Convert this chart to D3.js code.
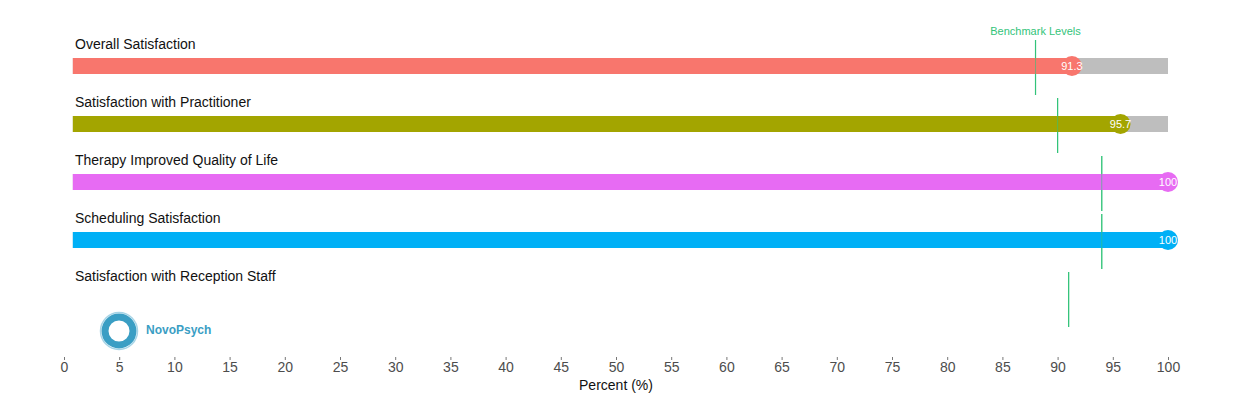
<!DOCTYPE html>
<html>
<head>
<meta charset="utf-8">
<script src="https://cdn.jsdelivr.net/npm/d3@7"></script>
<style>
  body { margin: 0; background: #fff; }
  text { font-family: "Liberation Sans", Arial, sans-serif; }
</style>
</head>
<body>
<script>
const categories = ["Overall Satisfaction", "Satisfaction with Practitioner", "Therapy Improved Quality of Life", "Scheduling Satisfaction", "Satisfaction with Reception Staff"];
const scores = [91.3, 95.7, 100, 100, null];
const benchmarks = [88, 90, 94, 94, 91];
const colours = ["#F8766D", "#A3A500", "#E76BF3", "#00B0F6", "#00BF7D"];
const ticks = d3.range(0, 101, 5);
const barStart = 0.8;

const w = 1239, h = 400;
const svg = d3.select("body").append("svg").attr("width", w).attr("height", h);

const x = d3.scaleLinear().domain([0, 100]).range([64, 1168]);
const y = d3.scaleBand().domain(categories).range([37, 327]);
const rowC = d => y(d) + y.bandwidth() / 2;

// benchmark lines
svg.selectAll(".bench").data(categories).enter().append("line")
  .attr("x1", (d, i) => x(benchmarks[i])).attr("x2", (d, i) => x(benchmarks[i]))
  .attr("y1", d => y(d) + 3).attr("y2", d => y(d) + y.bandwidth())
  .attr("stroke", "#33c47a").attr("stroke-width", 1.2);

svg.append("text").attr("x", x(benchmarks[0])).attr("y", 35)
  .attr("text-anchor", "middle").attr("font-size", 11).attr("fill", "#33c47a")
  .text("Benchmark Levels");

const rows = categories.map((c, i) => ({ c, v: scores[i], col: colours[i] }));

svg.selectAll(".lab").data(rows).enter().append("text")
  .attr("x", 75).attr("y", d => rowC(d.c) - 17)
  .attr("font-size", 14).attr("fill", "#111").text(d => d.c);

const scored = rows.filter(d => d.v != null);

svg.selectAll(".bg").data(scored).enter().append("rect")
  .attr("x", x(barStart)).attr("width", x(100) - x(barStart))
  .attr("y", d => rowC(d.c) - 8).attr("height", 16).attr("fill", "#BEBEBE");

svg.selectAll(".bar").data(scored).enter().append("rect")
  .attr("x", x(barStart)).attr("width", d => x(d.v) - x(barStart))
  .attr("y", d => rowC(d.c) - 8).attr("height", 16).attr("fill", d => d.col);

// benchmark line visible over bars
svg.selectAll(".bench2").data(categories).enter().append("line")
  .attr("x1", (d, i) => x(benchmarks[i])).attr("x2", (d, i) => x(benchmarks[i]))
  .attr("y1", d => y(d) + 3).attr("y2", d => y(d) + y.bandwidth())
  .attr("stroke", "#33c47a").attr("stroke-width", 1).attr("opacity", 0.6);

svg.selectAll(".dot").data(scored).enter().append("circle")
  .attr("cx", d => x(d.v)).attr("cy", d => rowC(d.c)).attr("r", 10).attr("fill", d => d.col);

svg.selectAll(".val").data(scored).enter().append("text")
  .attr("x", d => x(d.v)).attr("y", d => rowC(d.c) + 4)
  .attr("text-anchor", "middle").attr("font-size", 11).attr("fill", "#fff")
  .text(d => d.v);

// axis
const xAxis = d3.axisBottom(x).tickValues(ticks).tickSize(3).tickPadding(2);
const g = svg.append("g").attr("transform", "translate(0,357)").call(xAxis);
g.select(".domain").remove();
g.selectAll(".tick line").attr("stroke", "#777");
g.selectAll(".tick text").attr("font-size", 14).attr("fill", "#4d4d4d")
  .attr("font-family", "Liberation Sans, Arial, sans-serif");

svg.append("text").attr("x", x(50)).attr("y", 390).attr("text-anchor", "middle")
  .attr("font-size", 14).attr("fill", "#111").text("Percent (%)");

// logo
const logo = svg.append("g").attr("transform", "translate(119,331)");
logo.append("circle").attr("r", 14).attr("fill", "none").attr("stroke", "#3a9ec4").attr("stroke-width", 7);
logo.append("circle").attr("r", 18.5).attr("fill", "none").attr("stroke", "#6bb8d6").attr("stroke-width", 1.5).attr("opacity", 0.6);
svg.append("text").attr("x", 146).attr("y", 334).attr("font-size", 12).attr("font-weight", "bold")
  .attr("fill", "#3a9ec4").text("NovoPsych");
</script>
</body>
</html>
